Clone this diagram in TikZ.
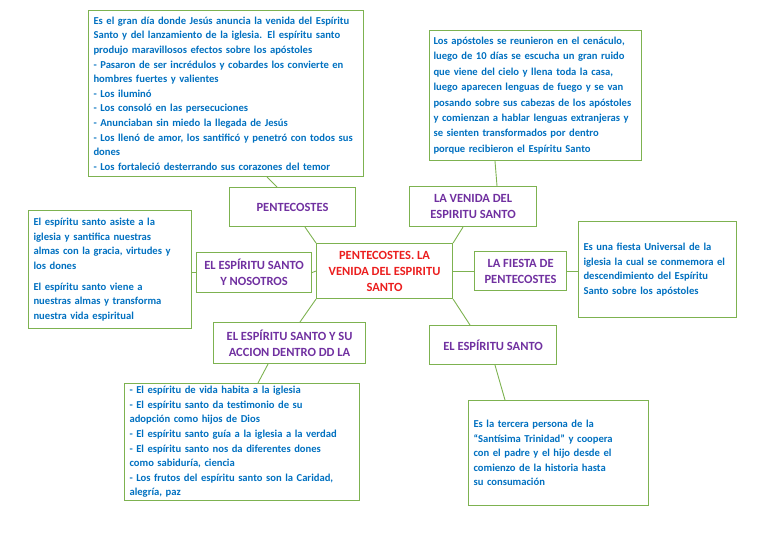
\documentclass[tikz,border=0pt]{standalone}
\usepackage{fontspec}
\setmainfont{Carlito}
\definecolor{gbord}{RGB}{125,178,80}
\definecolor{tblue}{RGB}{0,112,192}
\definecolor{tpurp}{RGB}{112,48,160}
\definecolor{tred}{RGB}{235,30,30}
\begin{document}
\begin{tikzpicture}[x=1pt,y=-1pt,
 box/.style={draw=gbord,line width=1.1pt,rectangle,anchor=north west,inner sep=0pt},
 txt/.style={box,text=tblue,align=left,font=\fontsize{10.6}{14.6}\selectfont\bfseries,inner xsep=5pt},
 lbl/.style={box,text=tpurp,align=center,font=\fontsize{12.5}{16}\selectfont\bfseries},
 link/.style={draw=gbord,line width=0.9pt}]
\useasboundingbox (0,0) rectangle (768,543);
% text boxes
\node[txt,minimum width=273,minimum height=166,text width=265] (tl) at (88,10) {Es el gran día donde Jesús anuncia la venida del Espíritu\\Santo y del lanzamiento de la iglesia. El espíritu santo\\produjo maravillosos efectos sobre los apóstoles\\- Pasaron de ser incrédulos y cobardes los convierte en\\hombres fuertes y valientes\\- Los iluminó\\- Los consoló en las persecuciones\\- Anunciaban sin miedo la llegada de Jesús\\- Los llenó de amor, los santificó y penetró con todos sus\\dones\\- Los fortaleció desterrando sus corazones del temor};
\node[txt,minimum width=212,minimum height=130,text width=204,inner xsep=4pt,font=\fontsize{10.6}{15.4}\selectfont\bfseries] (tr) at (429,30) {Los apóstoles se reunieron en el cenáculo,\\luego de 10 días se escucha un gran ruido\\que viene del cielo y llena toda la casa,\\luego aparecen lenguas de fuego y se van\\posando sobre sus cabezas de los apóstoles\\y comienzan a hablar lenguas extranjeras y\\se sienten transformados por dentro\\porque recibieron el Espíritu Santo};
\node[txt,minimum width=161,minimum height=118,text width=153] (lt) at (28,210) {El espíritu santo asiste a la\\iglesia y santifica nuestras\\almas con la gracia, virtudes y\\los dones\\[6pt]El espíritu santo viene a\\nuestras almas y transforma\\nuestra vida espiritual};
\node[txt,minimum width=156,minimum height=96,text width=148] (rt) at (578,221) {Es una fiesta Universal de la\\iglesia la cual se conmemora el\\descendimiento del Espíritu\\Santo sobre los apóstoles};
\node[txt,minimum width=233,minimum height=117,text width=225] (bl) at (124,383) {- El espíritu de vida habita a la iglesia\\- El espíritu santo da testimonio de su\\adopción como hijos de Dios\\- El espíritu santo guía a la iglesia a la verdad\\- El espíritu santo nos da diferentes dones\\como sabiduría, ciencia\\- Los frutos del espíritu santo son la Caridad,\\alegría, paz};
\node[txt,minimum width=178,minimum height=105,text width=170] (br) at (468,400) {Es la tercera persona de la\\“Santísima Trinidad” y coopera\\con el padre y el hijo desde el\\comienzo de la historia hasta\\su consumación};
% labels
\node[lbl,minimum width=126,minimum height=39] (pen) at (229,187) {PENTECOSTES};
\node[lbl,minimum width=127,minimum height=40] (ven) at (409,186) {LA VENIDA DEL\\ESPIRITU SANTO};
\node[lbl,minimum width=136,minimum height=55,text=tred] (c) at (316,243) {PENTECOSTES. LA\\VENIDA DEL ESPIRITU\\SANTO};
\node[lbl,minimum width=115,minimum height=40] (nos) at (196,252) {EL ESPÍRITU SANTO\\Y NOSOTROS};
\node[lbl,minimum width=92,minimum height=39] (fie) at (474,251) {LA FIESTA DE\\PENTECOSTES};
\node[lbl,minimum width=152,minimum height=41] (acc) at (213,322) {EL ESPÍRITU SANTO Y SU\\ACCION DENTRO DD LA};
\node[lbl,minimum width=127,minimum height=39] (es) at (429,325) {EL ESPÍRITU SANTO};
% connectors
\draw[link] ([xshift=179]tl.south west) -- ([xshift=48]pen.north west);
\draw[link] ([xshift=76]pen.south west) -- (c.north west);
\draw[link] ([xshift=88]ven.north west) -- ([xshift=66]tr.south west);
\draw[link] ([xshift=54]ven.south west) -- (c.north east);
\draw[link] (c.west) -- (nos.east);
\draw[link] (nos.west) -- (lt.east |- nos.west);
\draw[link] (c.east) -- (fie.west);
\draw[link] (fie.east) -- (rt.west |- fie.east);
\draw[link] (c.south west) -- ([xshift=87]acc.north west);
\draw[link] ([xshift=55]acc.south west) -- ([xshift=134]bl.north west);
\draw[link] (c.south east) -- ([xshift=41]es.north west);
\draw[link] ([xshift=66]es.south west) -- ([xshift=37]br.north west);
\end{tikzpicture}
\end{document}
